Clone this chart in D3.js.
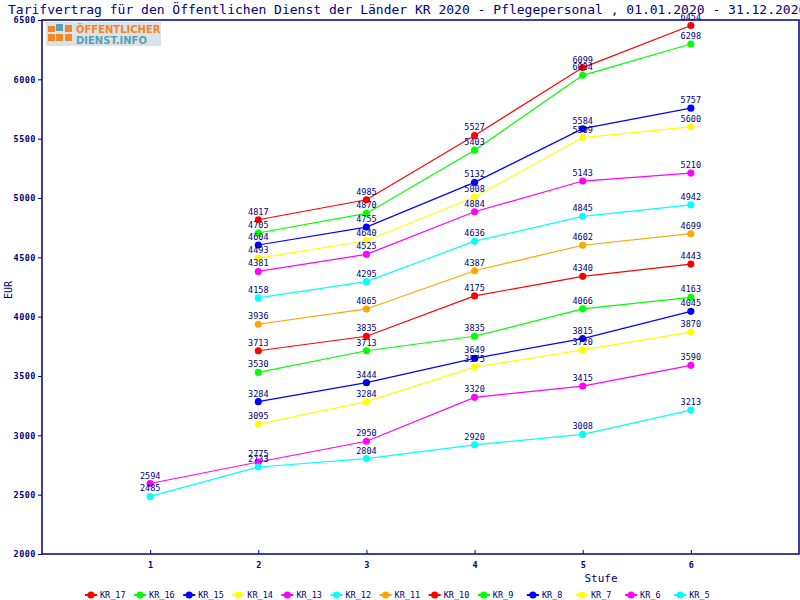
<!DOCTYPE html>
<html>
<head>
<meta charset="utf-8">
<script src="https://cdn.jsdelivr.net/npm/d3@7"></script>
<style>
body { margin: 0; background: #fff; }
text { font-family: "DejaVu Sans Mono", monospace; fill: #000080; }
</style>
</head>
<body>
<script>
// data
var stufen = [1, 2, 3, 4, 5, 6];
var seriesNames = ["KR_17", "KR_16", "KR_15", "KR_14", "KR_13", "KR_12", "KR_11", "KR_10", "KR_9", "KR_8", "KR_7", "KR_6", "KR_5"];
var kr17 = [null, 4817, 4985, 5527, 6099, 6454];
var kr16 = [null, 4705, 4870, 5403, 6034, 6298];
var kr15 = [null, 4604, 4755, 5132, 5584, 5757];
var kr14 = [null, 4493, 4640, 5008, 5509, 5600];
var kr13 = [null, 4381, 4525, 4884, 5143, 5210];
var kr12 = [null, 4158, 4295, 4636, 4845, 4942];
var kr11 = [null, 3936, 4065, 4387, 4602, 4699];
var kr10 = [null, 3713, 3835, 4175, 4340, 4443];
var kr9 = [null, 3530, 3713, 3835, 4066, 4163];
var kr8 = [null, 3284, 3444, 3649, 3815, 4045];
var kr7 = [null, 3095, 3284, 3575, 3720, 3870];
var kr6 = [2594, 2775, 2950, 3320, 3415, 3590];
var kr5 = [2485, 2733, 2804, 2920, 3008, 3213];
var yTicks = [2000, 2500, 3000, 3500, 4000, 4500, 5000, 5500, 6000, 6500];

var allValues = [kr17, kr16, kr15, kr14, kr13, kr12, kr11, kr10, kr9, kr8, kr7, kr6, kr5];
var colors = ["#ff0000", "#00ff00", "#0000ff", "#ffff00", "#ff00ff", "#00ffff", "#ffa500",
              "#ff0000", "#00ff00", "#0000ff", "#ffff00", "#ff00ff", "#00ffff"];
var navy = "#000080";

var svg = d3.select("body").append("svg").attr("width", 800).attr("height", 600);

var plotLeft = 42, plotRight = 799, plotTop = 20, plotBottom = 554;
var x = d3.scaleLinear().domain([0, 7]).range([plotLeft, plotRight]);
var y = d3.scaleLinear().domain([2000, 6500]).range([plotBottom, plotTop]);

// title
svg.append("text")
    .attr("x", 8).attr("y", 14)
    .style("font-size", "13px")
    .text("Tarifvertrag für den Öffentlichen Dienst der Länder KR 2020 - Pflegepersonal , 01.01.2020 - 31.12.2020");

// logo
var logo = svg.append("g").attr("transform", "translate(46,22)");
logo.append("rect").attr("width", 115).attr("height", 24).attr("fill", "#d9e3e8");
logo.append("rect").attr("x", 10).attr("y", 2).attr("width", 7).attr("height", 7).attr("fill", "#5aa0b0");
logo.append("rect").attr("x", 19).attr("y", 3).attr("width", 7).attr("height", 7).attr("fill", "#f5852a");
logo.append("rect").attr("x", 2).attr("y", 12).attr("width", 7).attr("height", 7).attr("fill", "#f5852a");
logo.append("rect").attr("x", 10).attr("y", 12).attr("width", 7).attr("height", 7).attr("fill", "#f5852a");
logo.append("rect").attr("x", 19).attr("y", 12).attr("width", 7).attr("height", 7).attr("fill", "#f5852a");
logo.append("rect").attr("x", 2).attr("y", 4).attr("width", 7).attr("height", 6).attr("fill", "#f5852a");
logo.append("text").attr("x", 30).attr("y", 11)
    .style("font-family", "'DejaVu Sans', sans-serif").style("font-weight", "bold")
    .style("font-size", "10px").style("fill", "#f5852a").text("ÖFFENTLICHER");
logo.append("text").attr("x", 30).attr("y", 22)
    .style("font-family", "'DejaVu Sans', sans-serif").style("font-weight", "bold")
    .style("font-size", "10px").style("fill", "#5aa0b0").text("DIENST.INFO");

// frame
svg.append("rect")
    .attr("x", plotLeft).attr("y", plotTop)
    .attr("width", plotRight - plotLeft).attr("height", plotBottom - plotTop)
    .attr("fill", "none").attr("stroke", navy).attr("stroke-width", 1.5);

// y axis
var yAxis = svg.append("g").attr("transform", "translate(" + plotLeft + ",0)")
    .call(d3.axisLeft(y).tickValues(yTicks).tickSize(4).tickPadding(2).tickFormat(d3.format("d")));
yAxis.select(".domain").remove();
yAxis.selectAll("line").attr("stroke", navy);
yAxis.selectAll("text").style("font-size", "8.5px").style("font-weight", "bold")
    .style("letter-spacing", "0.5px").attr("fill", navy);

// x axis
var xAxis = svg.append("g").attr("transform", "translate(0," + plotBottom + ")")
    .call(d3.axisBottom(x).tickValues(stufen).tickSize(-4).tickPadding(8).tickFormat(d3.format("d")));
xAxis.select(".domain").remove();
xAxis.selectAll("line").attr("stroke", navy);
xAxis.selectAll("text").style("font-size", "8.5px").style("font-weight", "bold").attr("fill", navy);

// axis titles
svg.append("text").attr("x", 601).attr("y", 582).attr("text-anchor", "middle")
    .style("font-size", "11px").text("Stufe");
svg.append("text").attr("transform", "translate(12,290) rotate(-90)").attr("text-anchor", "middle")
    .style("font-size", "10px").text("EUR");

// lines and markers
var line = d3.line()
    .defined(function(d) { return d != null; })
    .x(function(d, i) { return x(stufen[i]); })
    .y(function(d) { return y(d); });

var marker = d3.symbol().type(d3.symbolCircle).size(40);

for (var s = 0; s < allValues.length; s++) {
    var vals = allValues[s];
    var g = svg.append("g");
    g.append("path").attr("d", line(vals))
        .attr("fill", "none").attr("stroke", colors[s]).attr("stroke-width", 1.2);
    for (var i = 0; i < vals.length; i++) {
        if (vals[i] == null) continue;
        g.append("path").attr("d", marker)
            .attr("transform", "translate(" + x(stufen[i]) + "," + y(vals[i]) + ")")
            .attr("fill", colors[s]);
        g.append("text")
            .attr("x", x(stufen[i])).attr("y", y(vals[i]) - 5)
            .attr("text-anchor", "middle")
            .style("font-size", "8.5px")
            .text(vals[i]);
    }
}

// legend
var legend = svg.append("g");
for (var k = 0; k < seriesNames.length; k++) {
    var lx = 91 + k * 49.1;
    legend.append("line").attr("x1", lx - 6).attr("x2", lx + 6)
        .attr("y1", 595).attr("y2", 595).attr("stroke", colors[k]).attr("stroke-width", 2);
    legend.append("path").attr("d", marker)
        .attr("transform", "translate(" + lx + ",595)").attr("fill", colors[k]);
    legend.append("text").attr("x", lx + 9).attr("y", 598)
        .style("font-size", "8.5px").text(seriesNames[k]);
}
</script>
</body>
</html>
